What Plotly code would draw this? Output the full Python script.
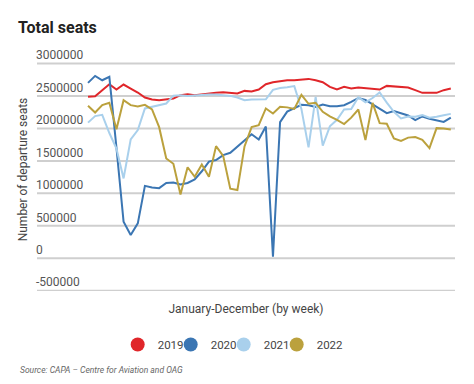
import plotly.graph_objects as go

weeks = list(range(1, 53))

series_names = ["2019", "2020", "2021", "2022"]
series_colors = ["#e0262a", "#3b76b3", "#a9d0ec", "#bba13d"]

y2019 = [2487000, 2497000, 2590000, 2682000, 2600000, 2677000, 2615000, 2554000, 2477000, 2446000,
         2436000, 2451000, 2461000, 2513000, 2528000, 2513000, 2528000, 2538000, 2549000, 2559000,
         2554000, 2538000, 2579000, 2569000, 2600000, 2682000, 2713000, 2733000, 2744000, 2744000,
         2759000, 2764000, 2744000, 2713000, 2641000, 2600000, 2641000, 2615000, 2631000, 2620000,
         2610000, 2600000, 2656000, 2651000, 2641000, 2631000, 2590000, 2549000, 2549000, 2549000,
         2590000, 2615000]

y2020 = [2702000, 2810000, 2743000, 2795000, 1700000, 564000, 359000, 538000, 1115000, 1090000,
         1080000, 1160000, 1166000, 1136000, 1160000, 1215000, 1340000, 1490000, 1513000, 1590000,
         1625000, 1720000, 1820000, 1910000, 1830000, 2030000, 25000, 2097000, 2260000, 2308000,
         2364000, 2359000, 2333000, 2369000, 2343000, 2343000, 2358000, 2410000, 2470000, 2440000,
         2372000, 2295000, 2236000, 2270000, 2230000, 2200000, 2128000, 2185000, 2149000, 2128000,
         2100000, 2166000]

y2021 = [2090000, 2190000, 2210000, 1930000, 1690000, 1230000, 1830000, 1974000, 2308000, 2333000,
         2350000, 2385000, 2505000, 2510000, 2502000, 2510000, 2520000, 2523000, 2523000, 2513000,
         2502000, 2477000, 2436000, 2446000, 2450000, 2450000, 2595000, 2623000, 2636000, 2653000,
         2300000, 1708000, 2487000, 1736000, 2033000, 2133000, 2294000, 2300000, 2482000, 2402000,
         2469000, 2554000, 2398000, 2256000, 2154000, 2185000, 2180000, 2205000, 2167000, 2180000,
         2205000, 2225000]

y2022 = [2349000, 2246000, 2359000, 2395000, 1987000, 2436000, 2359000, 2338000, 2364000, 2295000,
         2020000, 1538000, 1456000, 982000, 1402000, 1256000, 1443000, 1256000, 1728000, 1577000,
         1072000, 1051000, 1723000, 2020000, 2051000, 2308000, 2231000, 2333000, 2325000, 2302000,
         2518000, 2380000, 2395000, 2256000, 2185000, 2133000, 2067000, 2167000, 2292000, 1820000,
         2395000, 2082000, 2072000, 1846000, 1808000, 1859000, 1867000, 1826000, 1698000, 2005000,
         2000000, 1985000]

series_values = [y2019, y2020, y2021, y2022]

ytick_vals = [-500000, 0, 500000, 1000000, 1500000, 2000000, 2500000, 3000000]
ytick_text = [str(v) for v in ytick_vals]

x_range = [-6.17, 52.59]
y_range = [-505000, 3240000]

fig = go.Figure()

# horizontal gridlines at the tick values, spanning the x range
grid_x, grid_y = [], []
for v in ytick_vals:
    grid_x += [x_range[0], x_range[1], None]
    grid_y += [v, v, None]
fig.add_trace(go.Scatter(x=grid_x, y=grid_y, mode="lines", showlegend=False,
                         line=dict(color="#cfcfcf", width=2), hoverinfo="skip",
                         cliponaxis=False))

for name, color, vals in zip(series_names, series_colors, series_values):
    fig.add_trace(go.Scatter(x=weeks, y=vals, mode="lines", name=name,
                             line=dict(color=color, width=2), showlegend=False,
                             hoverinfo="x+y"))

for name, color in zip(series_names, series_colors):
    fig.add_trace(go.Scatter(x=[None], y=[None], mode="markers", name=name,
                             marker=dict(color=color, size=14, symbol="circle"),
                             showlegend=True))
# spacer entry so the last legend label is not clipped
fig.add_trace(go.Scatter(x=[None], y=[None], mode="markers", name=" ",
                         marker=dict(color="rgba(0,0,0,0)", size=1), showlegend=True,
                         hoverinfo="skip"))

fig.update_layout(
    width=474, height=384,
    margin=dict(l=37, r=19, t=48, b=93, autoexpand=False),
    paper_bgcolor="white", plot_bgcolor="white",
    font=dict(family="Roboto, sans-serif", size=12, color="#444"),
    title=dict(text="<b>Total seats</b>", x=18 / 474, xref="container", xanchor="left",
               y=1 - 27 / 384, yref="container", yanchor="middle",
               font=dict(size=16, color="#222", family="Roboto, sans-serif")),
    xaxis=dict(range=x_range, showgrid=False, showticklabels=False, zeroline=False,
               showline=False, ticks="", automargin=False,
               title=dict(text="January-December (by week)", standoff=13,
                          font=dict(size=12, color="#444"))),
    yaxis=dict(range=y_range, tickvals=ytick_vals, ticktext=ytick_text,
               ticklabelposition="inside top", ticklabelstandoff=-4, automargin=False,
               showgrid=False,
               zeroline=False, showline=False, ticks="", tickfont=dict(size=12, color="#555"),
               title=dict(text="Number of departure seats", standoff=5,
                          font=dict(size=12, color="#444"))),
    legend=dict(orientation="h", x=0.51, xanchor="center", y=-0.22, yanchor="middle",
                font=dict(size=11.5, color="#444"), entrywidth=8, entrywidthmode="pixels",
                bgcolor="rgba(0,0,0,0)"),
    annotations=[dict(text="<i>Source: CAPA – Centre for Aviation and OAG</i>",
                      x=(18 - 37) / 418, xref="paper", y=(290.6 - 370) / 243, yref="paper",
                      xanchor="left", yanchor="middle", showarrow=False,
                      font=dict(size=8.5, color="#666"))],
)

fig.write_html("out.html", config={"displayModeBar": False},
               post_script="document.body.style.margin='0px';")
